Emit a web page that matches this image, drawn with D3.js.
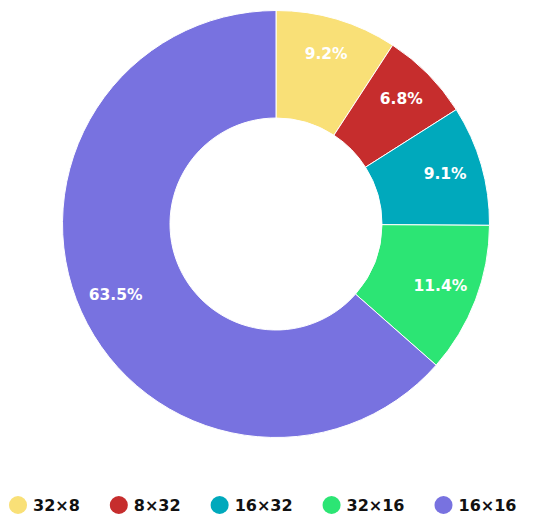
<!DOCTYPE html>
<html>
<head>
<meta charset="utf-8">
<script src="https://cdn.jsdelivr.net/npm/d3@7"></script>
<style>
  body { margin: 0; background: #fff; }
  text { font-family: "DejaVu Sans", "Liberation Sans", sans-serif; }
</style>
</head>
<body>
<div id="chart"></div>
<script>
// slice data, clockwise from 12 o'clock
var categories = ["32×8", "8×32", "16×32", "32×16", "16×16"];
var shares = [9.2, 6.8, 9.1, 11.4, 63.5];
var colors = ["#f9e077", "#c62d2d", "#00a9bc", "#2ce574", "#7872e0"];

var width = 550,
    height = 525;

var svg = d3.select("#chart").append("svg")
    .attr("width", width)
    .attr("height", height);

var cx = 276, cy = 224,
    outerR = 213.5, innerR = 106;

var pie = d3.pie().sort(null).value(function(d) { return d.value; });

var arc = d3.arc().innerRadius(innerR).outerRadius(outerR);
var labelArc = d3.arc().innerRadius(176).outerRadius(176);

var data = categories.map(function(c, i) {
    return { name: c, value: shares[i], color: colors[i] };
});

var g = svg.append("g").attr("transform", "translate(" + cx + "," + cy + ")");

var slices = g.selectAll("g.slice")
    .data(pie(data))
    .enter().append("g")
    .attr("class", "slice");

slices.append("path")
    .attr("d", arc)
    .attr("fill", function(d) { return d.data.color; })
    .attr("stroke", "#fff")
    .attr("stroke-width", 1);

slices.append("text")
    .attr("transform", function(d) { return "translate(" + labelArc.centroid(d) + ")"; })
    .attr("text-anchor", "middle")
    .attr("dy", "0.25em")
    .attr("fill", "#fff")
    .attr("font-size", 15.5)
    .attr("font-weight", "bold")
    .text(function(d) { return d.data.value.toFixed(1) + "%"; });

// legend along the bottom
var legend = svg.append("g").attr("transform", "translate(0,505)");
var x = 9;
data.forEach(function(d) {
    var item = legend.append("g").attr("transform", "translate(" + x + ",0)");
    item.append("circle")
        .attr("cx", 9).attr("cy", 0).attr("r", 9)
        .attr("fill", d.color);
    var t = item.append("text")
        .attr("x", 24).attr("dy", "0.36em")
        .attr("font-size", 16)
        .attr("font-weight", "bold")
        .attr("fill", "#111")
        .text(d.name);
    x += 24 + t.node().getComputedTextLength() + 30;
});
</script>
</body>
</html>
